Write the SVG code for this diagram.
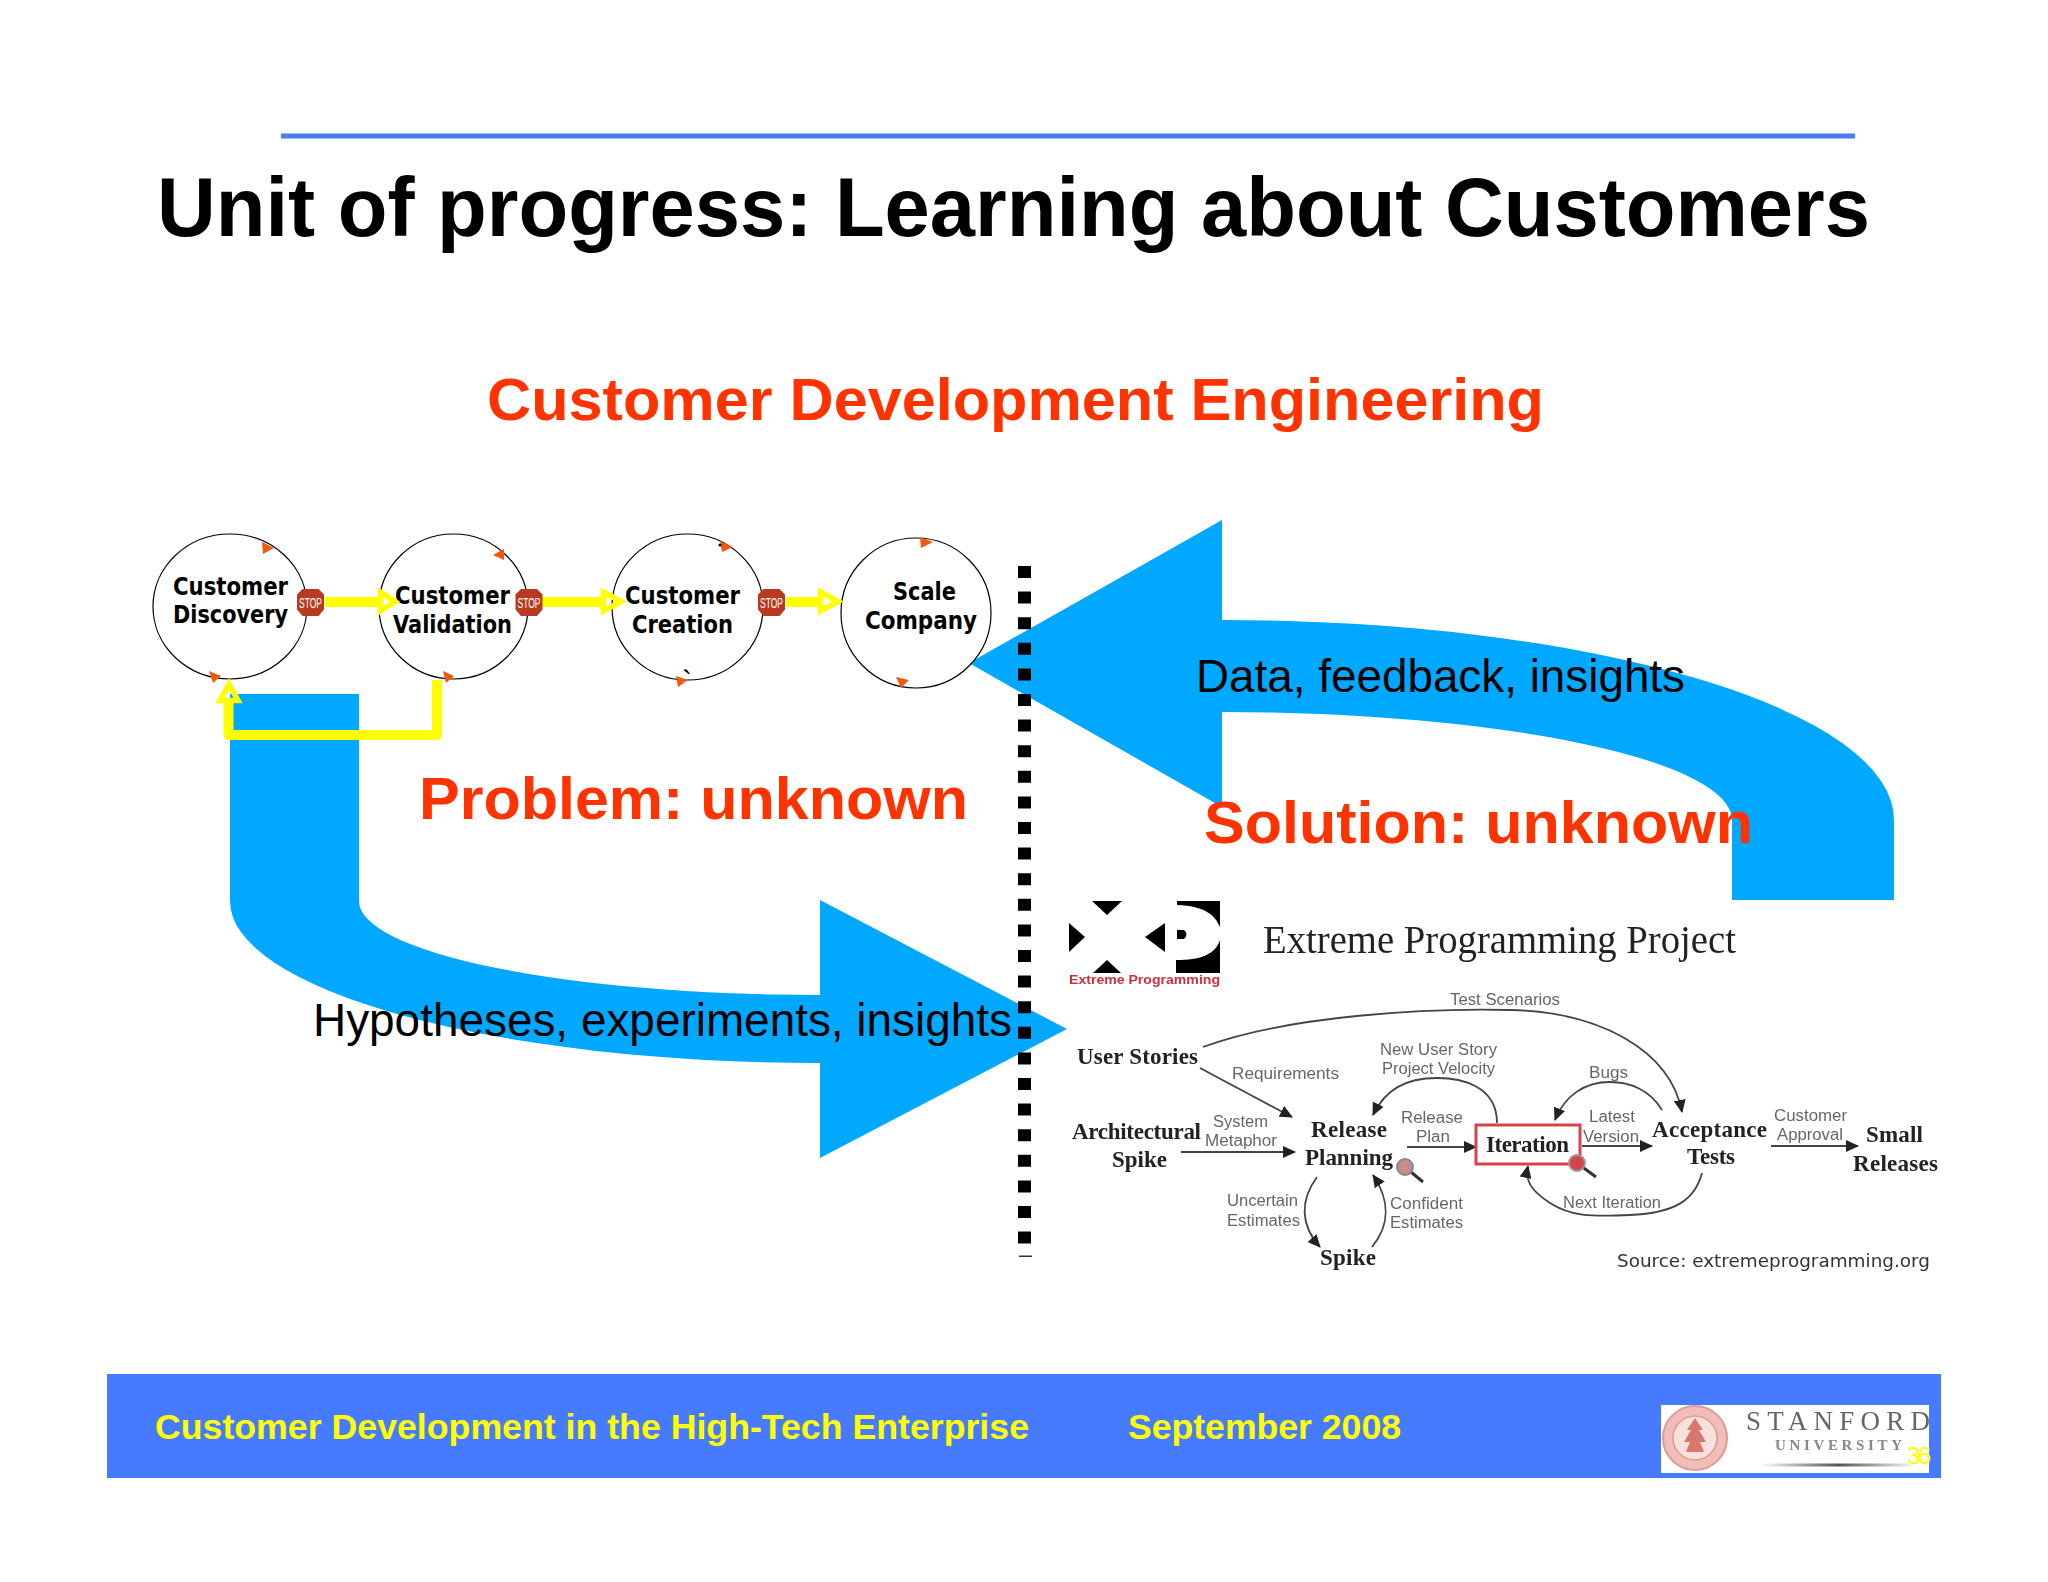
<svg xmlns="http://www.w3.org/2000/svg" width="2048" height="1582" viewBox="0 0 2048 1582">
<defs>
<style>
text{font-family:"Liberation Sans",Arial,sans-serif}
.red{fill:#ff3300;font-weight:bold;font-size:60px}
.blk{fill:#000;font-size:46px}
.node{font-family:"DejaVu Sans",sans-serif;font-weight:bold;font-size:24px;fill:#000}
.circ{fill:#fff;stroke:#000;stroke-width:1.2}
.stop{fill:#b83a20}
.stopt{fill:#fff;font-size:14px}
.tri{fill:#f2590c}
.yl{fill:none;stroke:#ffff00;stroke-width:10;stroke-linejoin:round}
.yh{fill:none;stroke:#ffff00;stroke-width:5.500;stroke-linejoin:miter}
.foot{fill:#ffff00;font-weight:bold;font-size:35px}
.sb{font-family:"Liberation Serif",serif;font-weight:bold;font-size:23px;fill:#222}
.sm{font-size:16px;fill:#666}
.ln{fill:none;stroke:#444;stroke-width:1.8;marker-end:url(#ah)}
</style>
<marker id="ah" markerUnits="userSpaceOnUse" markerWidth="14" markerHeight="12" refX="12" refY="6" orient="auto"><path d="M0 0L13 6L0 12Z" fill="#222"/></marker>
<filter id="soft" x="-5%" y="-5%" width="110%" height="110%"><feGaussianBlur stdDeviation="0.6"/></filter>
<linearGradient id="rule"><stop offset="0" stop-color="#fff"/><stop offset="0.5" stop-color="#555"/><stop offset="1" stop-color="#fff"/></linearGradient>
</defs>
<rect width="2048" height="1582" fill="#fff"/>
<rect id="top-rule" x="281" y="133.500" width="1574" height="5" fill="#4a7cf2"/>
<text id="title" x="157" y="236" font-size="83" font-weight="bold" textLength="1713" lengthAdjust="spacingAndGlyphs">Unit of progress: Learning about Customers</text>
<text id="subtitle" class="red" x="487" y="420" textLength="1057" lengthAdjust="spacingAndGlyphs">Customer Development Engineering</text>

<g id="blue-arrows" fill="#00a9ff">
<path id="arrow-feedback" d="M969 663L1222 520V620H1222A672 200 0 0 1 1894 820V900H1732V820A510 108 0 0 0 1222 712V807Z"/>
<path id="arrow-hypotheses" d="M230 694H359V901A461 94 0 0 0 820 995V900L1067 1029L820 1158V1063A590 162 0 0 1 230 901Z"/>
</g>
<path id="divider" d="M1024.500 566V1250" stroke="#000" stroke-width="13" stroke-dasharray="12 13.600" fill="none"/>
<rect x="1019" y="1255.500" width="13" height="1.500" fill="#333"/>

<g id="node-discovery">
<ellipse class="circ" cx="230" cy="606.500" rx="77" ry="72.500"/>
<text class="node" x="173" y="595" textLength="115" lengthAdjust="spacingAndGlyphs">Customer</text>
<text class="node" x="173" y="623" textLength="115" lengthAdjust="spacingAndGlyphs">Discovery</text>
<polygon class="tri" points="262,542 274,548 263,554"/>
<polygon class="tri" points="209,671 221,676 213,683"/>
</g>
<g id="node-validation">
<ellipse class="circ" cx="453.500" cy="606.500" rx="74.500" ry="72.500"/>
<text class="node" x="395" y="604" textLength="115" lengthAdjust="spacingAndGlyphs">Customer</text>
<text class="node" x="393" y="633" textLength="119" lengthAdjust="spacingAndGlyphs">Validation</text>
<polygon class="tri" points="493,555 504,549 504,560"/>
<polygon class="tri" points="443,671 454,676 446,683"/>
</g>
<g id="node-creation">
<ellipse class="circ" cx="687.500" cy="607" rx="75.500" ry="73"/>
<text class="node" x="625" y="604" textLength="115" lengthAdjust="spacingAndGlyphs">Customer</text>
<text class="node" x="632" y="633" textLength="101" lengthAdjust="spacingAndGlyphs">Creation</text>
<polygon class="tri" points="720,541 733,547 722,552"/>
<polygon class="tri" points="676,676 688,680 678,687"/>
<circle cx="720" cy="545" r="1.500" fill="#000"/>
<text x="682" y="691" font-size="30">`</text>
</g>
<g id="node-scale">
<ellipse class="circ" cx="916" cy="613" rx="75" ry="75"/>
<text class="node" x="893" y="600" textLength="63" lengthAdjust="spacingAndGlyphs">Scale</text>
<text class="node" x="865" y="629" textLength="112" lengthAdjust="spacingAndGlyphs">Company</text>
<polygon class="tri" points="920,537 933,542 921,548"/>
<polygon class="tri" points="896,677 909,680 901,688"/>
</g>
<g id="connectors">
<path class="yl" d="M325 602H380"/><path class="yh" d="M380.500 592L395 601.500L380.500 611Z"/>
<path class="yl" d="M542 602H603"/><path class="yh" d="M603.500 592L621 601.500L603.500 611Z"/>
<path class="yl" d="M786 602H820"/><path class="yh" d="M820.500 592L838 601.500L820.500 611Z"/>
<path class="yl" d="M437 680V735H228.500V701"/><path class="yh" d="M220 700.500L229 684L238 700.500Z"/>
</g>
<g id="stops">
<g id="stop-1"><polygon class="stop" points="302.500,589 318.500,589 324,594.500 324,609.500 318.500,616 302.500,616 297,609.500 297,594.500"/><text class="stopt" x="299" y="607.500" textLength="23" lengthAdjust="spacingAndGlyphs">STOP</text></g>
<g id="stop-2"><polygon class="stop" points="521,589 537,589 542.500,594.500 542.500,609.500 537,616 521,616 515.500,609.500 515.500,594.500"/><text class="stopt" x="517.500" y="607.500" textLength="23" lengthAdjust="spacingAndGlyphs">STOP</text></g>
<g id="stop-3"><polygon class="stop" points="763.500,589 779.500,589 785,594.500 785,609.500 779.500,616 763.500,616 758,609.500 758,594.500"/><text class="stopt" x="760" y="607.500" textLength="23" lengthAdjust="spacingAndGlyphs">STOP</text></g>
</g>

<text id="label-data" class="blk" x="1196" y="692" textLength="489" lengthAdjust="spacingAndGlyphs">Data, feedback, insights</text>
<text id="label-hyp" class="blk" x="313" y="1036" textLength="699" lengthAdjust="spacingAndGlyphs">Hypotheses, experiments, insights</text>
<text id="label-problem" class="red" x="419" y="819" textLength="549" lengthAdjust="spacingAndGlyphs">Problem: unknown</text>
<text id="label-solution" class="red" x="1204" y="843" textLength="549" lengthAdjust="spacingAndGlyphs">Solution: unknown</text>

<g id="xp-picture" filter="url(#soft)">
<g id="xp-logo" fill="#000">
<polygon points="1092,901 1122,901 1107,915"/>
<polygon points="1069,923 1085,937 1069,952"/>
<polygon points="1145,937 1165,923 1165,952"/>
<polygon points="1093,973 1121,973 1107,960"/>
<path d="M1177 901H1220V927C1215 915 1205 906 1177 905Z"/>
<path d="M1220 940V973H1176V960C1200 960 1215 955 1220 940Z"/>
<path d="M1177 930H1184Q1189 934 1184 939H1177Z"/>
<text x="1069" y="984" font-size="12" font-weight="bold" fill="#c8323a" textLength="151" lengthAdjust="spacingAndGlyphs">Extreme Programming</text>
</g>
<text id="xp-title" x="1263" y="953" font-size="39" textLength="473" lengthAdjust="spacingAndGlyphs" style="font-family:'Liberation Serif',serif" fill="#222">Extreme Programming Project</text>

<g id="xp-connectors">
<path class="ln" d="M1203 1047C1290 1015 1430 1008 1510 1010C1600 1012 1670 1050 1682 1112"/>
<path class="ln" d="M1200 1068L1292 1117"/>
<path class="ln" d="M1181 1152H1295"/>
<path class="ln" d="M1497 1123C1497 1085 1460 1078 1437 1078C1405 1078 1385 1090 1373 1115"/>
<path class="ln" d="M1407 1147H1476"/>
<path class="ln" d="M1317 1177C1300 1200 1300 1225 1320 1247"/>
<path class="ln" d="M1372 1247C1390 1225 1390 1200 1373 1175"/>
<path class="ln" d="M1662 1110C1650 1090 1630 1082 1610 1082C1585 1082 1565 1095 1555 1120"/>
<path class="ln" d="M1582 1146H1652"/>
<path class="ln" d="M1771 1146H1858"/>
<path class="ln" d="M1702 1173C1695 1200 1675 1213 1630 1215C1590 1217 1570 1216 1550 1203C1530 1190 1525 1180 1528 1166"/>
</g>
<g id="xp-user-stories"><text class="sb" x="1077" y="1064" textLength="121">User Stories</text></g>
<g id="xp-arch-spike"><text class="sb" x="1072" y="1139" textLength="129">Architectural</text><text class="sb" x="1112" y="1167" textLength="55">Spike</text></g>
<g id="xp-release-planning"><text class="sb" x="1311" y="1137" textLength="76">Release</text><text class="sb" x="1305" y="1165" textLength="88">Planning</text>
<line x1="1405" y1="1167" x2="1423" y2="1182" stroke="#333" stroke-width="3"/><circle cx="1405" cy="1167" r="8" fill="#c98a8a" stroke="#888" stroke-width="2"/></g>
<g id="xp-iteration"><rect x="1476" y="1125" width="104" height="39" fill="#fff" stroke="#d8434a" stroke-width="3"/><text class="sb" x="1486" y="1152" textLength="83">Iteration</text>
<line x1="1577" y1="1163" x2="1596" y2="1177" stroke="#333" stroke-width="3"/><circle cx="1577" cy="1163" r="8" fill="#d8434a" stroke="#999" stroke-width="2"/></g>
<g id="xp-acceptance"><text class="sb" x="1652" y="1137" textLength="115">Acceptance</text><text class="sb" x="1687" y="1164" textLength="48">Tests</text></g>
<g id="xp-small-releases"><text class="sb" x="1866" y="1142" textLength="57">Small</text><text class="sb" x="1853" y="1171" textLength="85">Releases</text></g>
<g id="xp-spike"><text class="sb" x="1320" y="1265" textLength="56">Spike</text></g>
<g id="xp-labels">
<text class="sm" x="1450" y="1005" textLength="110" lengthAdjust="spacingAndGlyphs">Test Scenarios</text>
<text class="sm" x="1232" y="1079" textLength="107" lengthAdjust="spacingAndGlyphs">Requirements</text>
<text class="sm" x="1380" y="1055" textLength="117" lengthAdjust="spacingAndGlyphs">New User Story</text>
<text class="sm" x="1382" y="1074" textLength="113" lengthAdjust="spacingAndGlyphs">Project Velocity</text>
<text class="sm" x="1213" y="1127" textLength="55" lengthAdjust="spacingAndGlyphs">System</text>
<text class="sm" x="1205" y="1146" textLength="72" lengthAdjust="spacingAndGlyphs">Metaphor</text>
<text class="sm" x="1401" y="1123" textLength="62" lengthAdjust="spacingAndGlyphs">Release</text>
<text class="sm" x="1416" y="1142" textLength="34" lengthAdjust="spacingAndGlyphs">Plan</text>
<text class="sm" x="1227" y="1206" textLength="71" lengthAdjust="spacingAndGlyphs">Uncertain</text>
<text class="sm" x="1227" y="1226" textLength="73" lengthAdjust="spacingAndGlyphs">Estimates</text>
<text class="sm" x="1390" y="1209" textLength="73" lengthAdjust="spacingAndGlyphs">Confident</text>
<text class="sm" x="1390" y="1228" textLength="73" lengthAdjust="spacingAndGlyphs">Estimates</text>
<text class="sm" x="1589" y="1078" textLength="39" lengthAdjust="spacingAndGlyphs">Bugs</text>
<text class="sm" x="1589" y="1122" textLength="46" lengthAdjust="spacingAndGlyphs">Latest</text>
<text class="sm" x="1583" y="1142" textLength="56" lengthAdjust="spacingAndGlyphs">Version</text>
<text class="sm" x="1774" y="1121" textLength="73" lengthAdjust="spacingAndGlyphs">Customer</text>
<text class="sm" x="1777" y="1140" textLength="66" lengthAdjust="spacingAndGlyphs">Approval</text>
<text class="sm" x="1563" y="1208" textLength="98" lengthAdjust="spacingAndGlyphs">Next Iteration</text>
<text x="1617" y="1267" font-size="17" fill="#333" textLength="313" lengthAdjust="spacingAndGlyphs" style="font-family:'DejaVu Sans',sans-serif">Source: extremeprogramming.org</text>
</g>
</g>

<g id="footer">
<rect x="107" y="1374" width="1834" height="104" fill="#477bff"/>
<text class="foot" x="155" y="1439" textLength="874" lengthAdjust="spacingAndGlyphs">Customer Development in the High-Tech Enterprise</text>
<text class="foot" x="1128" y="1439" textLength="273" lengthAdjust="spacingAndGlyphs">September 2008</text>
<g id="stanford-logo">
<rect x="1661" y="1405" width="268" height="68" fill="#fff"/>
<g filter="url(#soft)">
<circle cx="1695" cy="1438" r="32" fill="#f0bdb8" stroke="#e09a92" stroke-width="2"/>
<circle cx="1695" cy="1438" r="22" fill="#f8e0dc" stroke="#e09a92" stroke-width="1.500"/>
<path d="M1695 1418L1703 1430L1699 1430L1706 1442L1700 1442L1704 1452H1686L1690 1442L1684 1442L1691 1430L1687 1430Z" fill="#d8776e"/>
<text x="1746" y="1430" font-size="27" fill="#666" textLength="184" style="font-family:'Liberation Serif',serif">STANFORD</text>
<text x="1775" y="1450" font-size="15" font-weight="bold" fill="#888" textLength="127" style="font-family:'Liberation Serif',serif">UNIVERSITY</text>
<rect x="1760" y="1463.500" width="157" height="3" fill="url(#rule)"/>
</g>
</g>
<text id="page-number" x="1907" y="1464" font-size="24" fill="#ffff00" textLength="24">36</text>
</g>
</svg>
